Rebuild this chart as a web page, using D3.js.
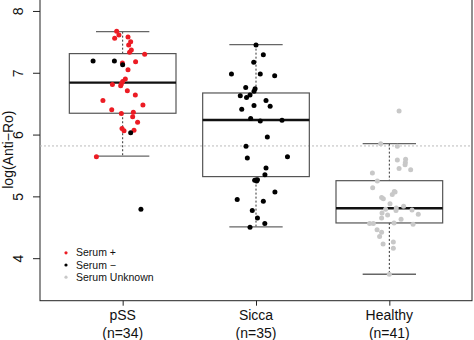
<!DOCTYPE html>
<html>
<head>
<meta charset="utf-8">
<script src="https://cdn.jsdelivr.net/npm/d3@7"></script>
<style>
  body { margin: 0; background: #fff; }
  svg { display: block; font-family: "Liberation Sans", Arial, sans-serif; }
</style>
</head>
<body>
<div id="chart"></div>
<script>
// groups and labels
var groups = ["pSS", "Sicca", "Healthy"];
var groupN = ["(n=34)", "(n=35)", "(n=41)"];
var yTicks = [4, 5, 6, 7, 8];
var refLine = 5.816;

// box stats: lower whisker, Q1, median, Q3, upper whisker
var boxStats = [
	[5.65, 6.345, 6.84, 7.31, 7.665],
	[4.505, 5.32, 6.236, 6.673, 7.455],
	[3.74, 4.57, 4.807, 5.254, 5.853]
];

// points: [jitter (group units), log(Anti-Ro)]
var pssPos = [
	[-0.045, 7.67], [-0.028, 7.61], [-0.06, 7.56], [0.04, 7.58], [0.06, 7.50],
	[0.045, 7.45], [0.065, 7.37], [0.052, 7.33], [0.165, 7.30], [0.097, 7.18],
	[-0.002, 7.16], [0.04, 7.05], [0.02, 6.90], [0, 6.86], [-0.01, 6.82],
	[-0.077, 6.81], [-0.015, 6.79], [0.035, 6.71], [0.095, 6.64], [-0.148, 6.55],
	[0.152, 6.48], [-0.082, 6.40], [-0.01, 6.34], [0.08, 6.36], [0.075, 6.29],
	[0.112, 6.20], [-0.005, 6.10], [0.01, 6.06], [0.085, 6.07], [-0.197, 5.64]
];
var pssNeg = [
	[-0.222, 7.19], [-0.062, 7.19], [0, 7.13], [0.06, 6.03], [0.137, 4.79]
];
var siccaNeg = [
	[0, 7.45], [0.055, 7.29], [-0.017, 7.17], [-0.184, 6.98], [0.032, 6.98],
	[0.14, 6.95], [-0.077, 6.76], [-0.007, 6.74], [-0.015, 6.70], [-0.118, 6.63],
	[-0.071, 6.60], [-0.045, 6.64], [0.075, 6.55], [-0.107, 6.41], [-0.015, 6.47],
	[0.106, 6.46], [-0.04, 6.26], [0.032, 6.22], [0.195, 6.23], [0.085, 5.96],
	[-0.075, 5.81], [-0.065, 5.62], [0.236, 5.64], [0.075, 5.46], [0.067, 5.35],
	[0.011, 5.27], [-0.01, 5.26], [0.005, 5.25], [0.142, 5.07], [-0.141, 4.95],
	[0.055, 4.92], [-0.028, 4.77], [0.011, 4.65], [0.066, 4.56], [-0.045, 4.50]
];
var healthyUnk = [
	[0.073, 6.38], [-0.065, 5.85], [0.06, 5.81], [0.06, 5.59], [0.122, 5.60],
	[0.12, 5.55], [0.118, 5.51], [0.073, 5.45], [0.16, 5.43], [-0.127, 5.38],
	[-0.09, 5.25], [-0.125, 5.14], [0.043, 5.07], [0.037, 5.08], [0.022, 5.03],
	[-0.058, 4.98], [-0.045, 4.96], [0.005, 4.88], [0.107, 4.84], [0.052, 4.81],
	[-0.028, 4.79], [0.05, 4.77], [0.17, 4.78], [-0.055, 4.73], [-0.013, 4.70],
	[0.217, 4.71], [-0.058, 4.65], [0.088, 4.63], [-0.148, 4.56], [-0.12, 4.56],
	[0.035, 4.57], [0.178, 4.55], [-0.092, 4.46], [-0.058, 4.42], [-0.073, 4.35],
	[0.03, 4.26], [-0.047, 4.23], [0.03, 4.16], [0, 3.74]
];

var legendLabels = ["Serum +", "Serum \u2212", "Serum Unknown"];
var colors = { pos: "#ec1c24", neg: "#000000", unk: "#c8c8c8" };

var width = 474, height = 340;
var svg = d3.select("#chart").append("svg")
	.attr("width", width)
	.attr("height", height);

var x = d3.scaleLinear().domain([0.38, 3.62]).range([40, 472]);
var y = d3.scaleLinear().domain([3.312, 8.2]).range([300.7, -1.4]);

// frame
svg.append("rect")
	.attr("x", x(0.38)).attr("y", y(8.2))
	.attr("width", x(3.62) - x(0.38))
	.attr("height", y(3.312) - y(8.2))
	.attr("fill", "none")
	.attr("stroke", "#222")
	.attr("stroke-width", 1);

// dotted reference line
svg.append("line")
	.attr("x1", x(0.38)).attr("x2", x(3.62))
	.attr("y1", y(refLine)).attr("y2", y(refLine))
	.attr("stroke", "#bbb")
	.attr("stroke-dasharray", "2,2");

// boxes
var boxes = svg.append("g").attr("class", "boxes");
boxStats.forEach(function(s, i) {
	var cx = i + 1;
	var g = boxes.append("g");
	// whiskers
	g.append("line")
		.attr("x1", x(cx)).attr("x2", x(cx))
		.attr("y1", y(s[4])).attr("y2", y(s[3]))
		.attr("stroke", "#333").attr("stroke-dasharray", "2,2");
	g.append("line")
		.attr("x1", x(cx)).attr("x2", x(cx))
		.attr("y1", y(s[1])).attr("y2", y(s[0]))
		.attr("stroke", "#333").attr("stroke-dasharray", "2,2");
	// staples
	[s[0], s[4]].forEach(function(v) {
		g.append("line")
			.attr("x1", x(cx - 0.2)).attr("x2", x(cx + 0.2))
			.attr("y1", y(v)).attr("y2", y(v))
			.attr("stroke", "#666").attr("stroke-width", 1.3);
	});
	// box
	g.append("rect")
		.attr("x", x(cx - 0.4)).attr("y", y(s[3]))
		.attr("width", x(cx + 0.4) - x(cx - 0.4))
		.attr("height", y(s[1]) - y(s[3]))
		.attr("fill", "none")
		.attr("stroke", "#555").attr("stroke-width", 1.2);
	// median
	g.append("line")
		.attr("x1", x(cx - 0.4)).attr("x2", x(cx + 0.4))
		.attr("y1", y(s[2])).attr("y2", y(s[2]))
		.attr("stroke", "#111").attr("stroke-width", 2.4);
});

// points
function drawPoints(data, gi, col) {
	svg.append("g").selectAll("circle")
		.data(data)
		.enter()
		.append("circle")
		.attr("cx", function(d) { return x(gi + d[0]); })
		.attr("cy", function(d) { return y(d[1]); })
		.attr("r", 2.5)
		.attr("fill", col);
}
drawPoints(healthyUnk, 3, colors.unk);
drawPoints(siccaNeg, 2, colors.neg);
drawPoints(pssPos, 1, colors.pos);
drawPoints(pssNeg, 1, colors.neg);

// y axis
var yAxis = svg.append("g")
	.attr("transform", "translate(" + x(0.38) + ",0)")
	.call(d3.axisLeft(y).tickValues(yTicks).tickSize(7).tickPadding(4).tickFormat(d3.format("d")));
yAxis.select(".domain").remove();
yAxis.selectAll(".tick line").attr("stroke", "#222");
yAxis.selectAll(".tick text")
	.attr("font-size", 14)
	.attr("font-family", "Liberation Sans, Arial, sans-serif")
	.attr("fill", "#111")
	.attr("text-anchor", "middle")
	.attr("dy", 0)
	.attr("x", 0)
	.attr("transform", "translate(-17,0) rotate(-90)");

svg.append("text")
	.attr("transform", "translate(13," + ((y(8.2) + y(3.312)) / 2) + ") rotate(-90)")
	.attr("text-anchor", "middle")
	.attr("font-size", 14)
	.attr("fill", "#111")
	.text("log(Anti\u2212Ro)");

// x axis
var xAxis = svg.append("g")
	.attr("transform", "translate(0," + y(3.312) + ")")
	.call(d3.axisBottom(x).tickValues([1, 2, 3]).tickSize(5).tickFormat(""));
xAxis.select(".domain").remove();
xAxis.selectAll(".tick line").attr("stroke", "#222");

var xl = svg.append("g").selectAll("text")
	.data(groups)
	.enter()
	.append("text")
	.attr("text-anchor", "middle")
	.attr("font-size", 14)
	.attr("fill", "#111");
xl.append("tspan")
	.attr("x", function(d, i) { return x(i + 1); })
	.attr("y", 320)
	.text(function(d) { return d; });
xl.append("tspan")
	.attr("x", function(d, i) { return x(i + 1); })
	.attr("y", 338)
	.text(function(d, i) { return groupN[i]; });

// legend
var legendColors = [colors.pos, colors.neg, colors.unk];
var legend = svg.append("g").selectAll("g")
	.data(legendLabels)
	.enter()
	.append("g")
	.attr("transform", function(d, i) { return "translate(66," + (252.8 + i * 12.2) + ")"; });
legend.append("circle")
	.attr("r", 1.6)
	.attr("fill", function(d, i) { return legendColors[i]; });
legend.append("text")
	.attr("x", 10)
	.attr("dy", "0.35em")
	.attr("font-size", 10.5)
	.attr("fill", "#111")
	.text(function(d) { return d; });
</script>
</body>
</html>
